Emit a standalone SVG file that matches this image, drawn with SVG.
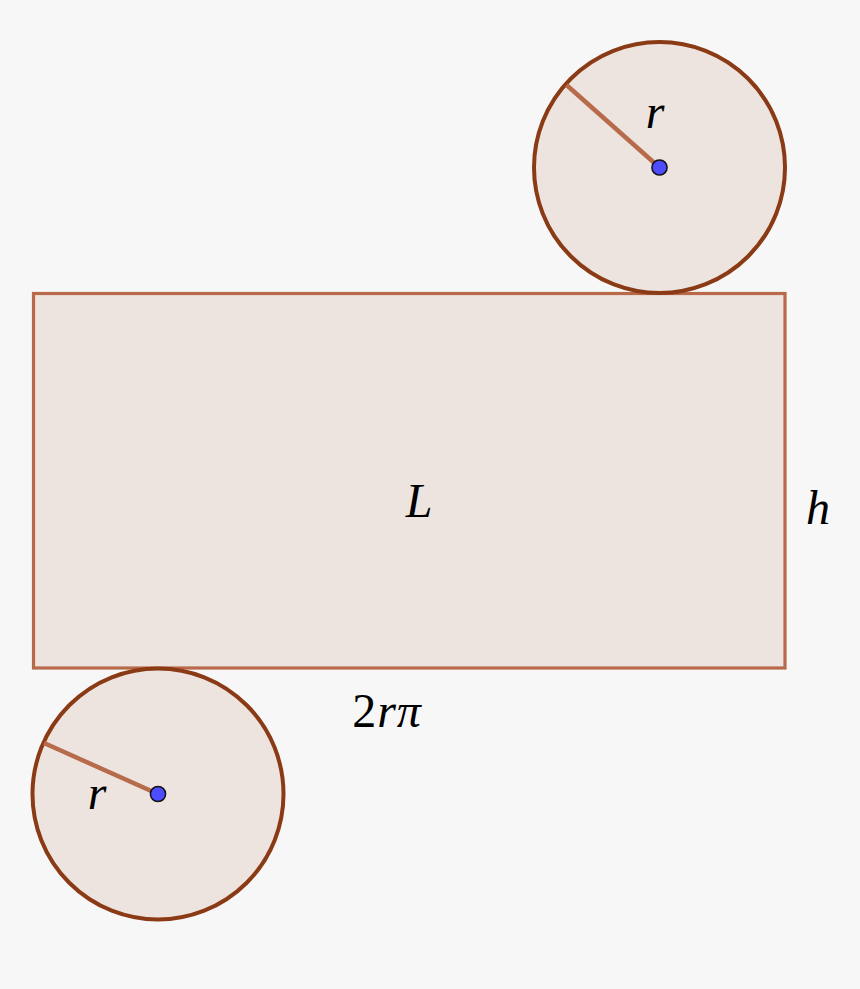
<svg xmlns="http://www.w3.org/2000/svg" width="860" height="989" viewBox="0 0 860 989">
<style>
.circ{fill:#ede4df;stroke:#8a3a14;stroke-width:4}
.rect{fill:#ede4df;stroke:#b8694a;stroke-width:3.2}
.rad{stroke:#b86b4b;stroke-width:4.5;stroke-linecap:butt}
.pt{fill:#4d4dff;stroke:#111;stroke-width:1.5}
.t{font-family:"Liberation Serif",serif;font-style:italic;font-size:48px;fill:#000}
.u{font-style:normal}
</style>
<rect width="860" height="989" fill="#f7f7f7"/>
<g id="lateral">
<rect class="rect" x="33.5" y="293.5" width="751.5" height="374.5"/>
<text class="t" x="419" y="517" text-anchor="middle">L</text>
<text class="t" x="818" y="524" text-anchor="middle">h</text>
<text class="t" x="387" y="727" text-anchor="middle" letter-spacing="1"><tspan class="u">2</tspan>rπ</text>
</g>
<g id="topBase">
<circle class="circ" cx="659.5" cy="167.5" r="125.5"/>
<line class="rad" x1="566.5" y1="85" x2="659.5" y2="167.5"/>
<circle class="pt" cx="659.5" cy="167.5" r="7.6"/>
<text class="t" x="655" y="128" text-anchor="middle">r</text>
</g>
<g id="bottomBase">
<circle class="circ" cx="158" cy="794" r="125.5"/>
<line class="rad" x1="44" y1="743" x2="158" y2="794"/>
<circle class="pt" cx="158" cy="794" r="7.6"/>
<text class="t" x="97" y="809" text-anchor="middle">r</text>
</g>
</svg>
